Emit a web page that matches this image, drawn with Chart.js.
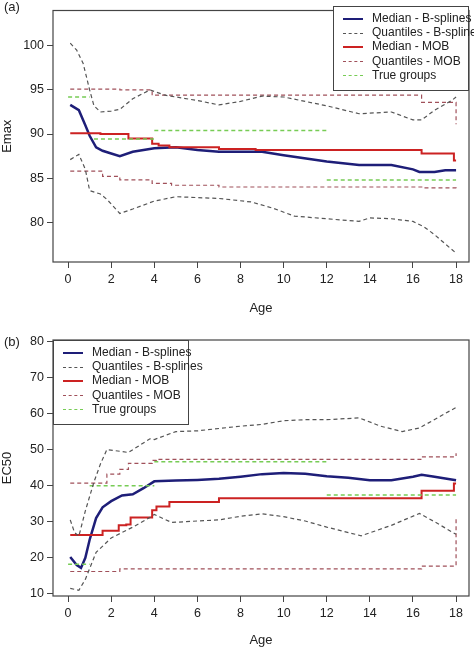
<!DOCTYPE html>
<html><head><meta charset="utf-8">
<script src="https://cdn.jsdelivr.net/npm/chart.js@4"></script>
<style>
body{margin:0;background:#fff;font-family:"Liberation Sans",Arial,sans-serif;}
.wrap{position:absolute;left:0;width:474px;}
.lab{position:absolute;font-size:13px;color:#222;}
.leg{position:absolute;border:1.5px solid #444;background:#fff;font-size:12px;color:#222;padding:4px 4px 3px 9px;box-sizing:border-box;width:136px;height:85px;}
.leg div{height:14.2px;line-height:14px;white-space:nowrap;}
.leg span{display:inline-block;width:20px;margin-right:9px;vertical-align:middle;height:0;}
</style></head><body>
<div class="wrap" style="top:0;height:320px"><canvas id="ca"></canvas></div>
<div class="wrap" style="top:320px;height:332px"><canvas id="cb"></canvas></div>
<div class="lab" style="left:4px;top:-1px">(a)</div>
<div class="lab" style="left:4px;top:334px">(b)</div>
<div class="leg" style="left:333px;top:6px">
<div><span style="border-top:2.5px solid #1e1e78"></span>Median - B-splines</div>
<div><span style="border-top:1.5px dashed #555"></span>Quantiles - B-splines</div>
<div><span style="border-top:2px solid #cc2222"></span>Median - MOB</div>
<div><span style="border-top:1.5px dashed #a0505a"></span>Quantiles - MOB</div>
<div><span style="border-top:1.5px dashed #77cc55"></span>True groups</div>
</div>
<div class="leg" style="left:53px;top:340px">
<div><span style="border-top:2.5px solid #1e1e78"></span>Median - B-splines</div>
<div><span style="border-top:1.5px dashed #555"></span>Quantiles - B-splines</div>
<div><span style="border-top:2px solid #cc2222"></span>Median - MOB</div>
<div><span style="border-top:1.5px dashed #a0505a"></span>Quantiles - MOB</div>
<div><span style="border-top:1.5px dashed #77cc55"></span>True groups</div>
</div>
<script>
const xTicks=[0,2,4,6,8,10,12,14,16,18];
// Panel (a) Emax
const aMedBsX=[0.1,0.5,0.8,1,1.3,1.6,2,2.4,3,4,5,6,7,8,9,10,12,13.5,15,16,16.3,17,17.5,18];
const aMedBsY=[93.3,92.7,91,89.8,88.5,88.1,87.8,87.5,88,88.4,88.5,88.2,88,88,88,87.6,86.9,86.5,86.5,86,85.7,85.7,85.9,85.9];
const aMedMobX=[0.1,1.5,2.8,3.9,4.2,4.7,7,8.7,16.4,17.9,18];
const aMedMobY=[90.1,90.0,89.5,88.9,88.7,88.5,88.3,88.2,87.8,87.0,87.0];
const aQMobUpX=[0.1,2.4,3.9,16.4,17.8,18];
const aQMobUpY=[95.1,95.0,94.4,93.6,93.6,91.1];
const aQMobLoX=[0.1,1.6,2.4,3.9,4.8,7,16.5,18];
const aQMobLoY=[85.8,85.2,84.8,84.4,84.2,84.0,83.9,83.8];
const aQBsUpX=[0.1,0.4,0.7,1,1.2,1.5,2,2.4,3,3.8,4.5,6,7,8,9,10,11,12,13.5,15,16,16.4,17,17.8,18];
const aQBsUpY=[100.3,99.5,98,95,93.2,92.5,92.6,92.8,94,95,94.4,93.8,93.3,93.7,94.3,94.2,93.7,93.2,92.3,92.5,91.6,91.6,92.7,93.8,94.2];
const aQBsLoX=[0.1,0.5,0.8,1,1.5,1.8,2.4,3,4,5,6,7,8.5,9.5,10.5,12,13.5,14,15,16,16.5,17,18];
const aQBsLoY=[87.1,87.7,86,83.6,83.2,82.6,81,81.5,82.4,82.9,82.8,82.7,82.3,81.6,80.7,80.4,80.1,80.5,80.4,80.1,79.5,78.6,76.5];
const aTrueX=[0,1,null,1.2,4,null,4,12,null,12,18];
const aTrueY=[94.2,94.2,null,89.45,89.45,null,90.4,90.4,null,84.8,84.8];
const aYTicks=[80,85,90,95,100];
// Panel (b) EC50
const bMedBsX=[0.1,0.4,0.6,0.8,1,1.3,1.6,2,2.5,3,3.5,4,5,6,7,8,9,10,11,12,13,14,15,16,16.4,17,18];
const bMedBsY=[20.2,18,17.2,20,25,31,34,35.7,37.3,37.6,39.3,41.2,41.4,41.6,41.9,42.5,43.2,43.5,43.3,42.6,42.2,41.5,41.5,42.5,43,42.5,41.5];
const bMedMobX=[0.1,1.6,2.35,2.7,2.9,3.9,4.1,4.7,7,16.4,17.9,18];
const bMedMobY=[26.3,27.5,29.0,29.2,31.2,33.2,34.2,35.5,36.5,38.6,40.6,40.6];
const bQMobUpX=[0.1,1.8,2.4,2.8,3.9,4.1,16.4,17.9,18];
const bQMobUpY=[40.7,43.2,44.5,46.2,47.0,47.3,48.0,48.0,49.0];
const bQMobLoX=[0.1,2.4,16.4,17.9,18];
const bQMobLoY=[16.2,16.9,17.7,17.7,31.0];
const bQBsUpX=[0.1,0.3,0.5,0.8,1.2,1.5,1.8,2.2,2.8,3.8,4,5,6,8,9,10,11,12,13.5,14.5,15.5,16.3,18];
const bQBsUpY=[30.5,27,26,33,41,46,50,49.7,49.2,53,52.8,55,55.2,56.5,57,58,58.3,58.3,58.8,56.5,55,56,61.7];
const bQBsLoX=[0.1,0.5,0.8,1,1.3,2,3,3.8,4,4.8,6,7,8,9,10,11,12,13.6,15,16.3,17,18];
const bQBsLoY=[11.5,11,14,17,21.5,25.5,28.5,31.2,32,29.8,30.2,30.5,31.5,32.2,31.4,30.2,28.5,26.1,29,32.3,30,26.5];
const bTrueX=[0,1,null,1,4,null,4,12,null,12,18];
const bTrueY=[18.2,18.2,null,40,40,null,46.6,46.6,null,37.4,37.4];
const bYTicks=[10,20,30,40,50,60,70,80];

const pts=(xs,ys)=>xs.map((x,i)=>x===null?{x:null,y:null}:{x:x,y:ys[i]});
const C={navy:'#1e1e78',gray:'#555',red:'#cc2222',mob:'#a0505a',green:'#77cc55'};
function ds(xs,ys,color,w,dash,stepped){return{data:pts(xs,ys),borderColor:color,borderWidth:w,borderDash:dash||[],stepped:stepped||false,pointRadius:0,fill:false,spanGaps:false,tension:0};}
const boxPlugin={id:'box',afterDraw(c){const a=c.chartArea,g=c.ctx;g.save();g.strokeStyle='#444';g.lineWidth=1.2;g.strokeRect(a.left,a.top,a.right-a.left,a.bottom-a.top);g.restore();}};
function make(id,sets,ymin,ymax,yticks,ytitle,top,bottomH){
 new Chart(document.getElementById(id),{type:'line',data:{datasets:sets},plugins:[boxPlugin],
 options:{responsive:true,maintainAspectRatio:false,animation:false,
 layout:{padding:{top:top,right:5,left:0,bottom:0}},
 plugins:{legend:{display:false},tooltip:{enabled:false}},
 scales:{
  x:{type:'linear',min:-0.7,max:18.6,afterBuildTicks:s=>{s.ticks=xTicks.map(v=>({value:v}));},
   grid:{drawOnChartArea:false,color:'#444',tickLength:6},border:{display:false},
   ticks:{color:'#222',font:{size:12.5,family:'Liberation Sans'},padding:4,maxRotation:0},
   title:{display:true,text:'Age',color:'#222',font:{size:13,family:'Liberation Sans'},padding:{top:10}},
   afterFit:s=>{s.height=bottomH;}},
  y:{min:ymin,max:ymax,afterBuildTicks:s=>{s.ticks=yticks.map(v=>({value:v}));},
   grid:{drawOnChartArea:false,color:'#444',tickLength:6},border:{display:false},
   ticks:{color:'#222',font:{size:12.5,family:'Liberation Sans'},padding:3},
   title:{display:true,text:ytitle,color:'#222',font:{size:13,family:'Liberation Sans'},padding:0},
   afterFit:s=>{s.width=53;}}
 }}});
}
const S='before';
make('ca',[
 ds(aQBsUpX,aQBsUpY,C.gray,1.2,[4,3]),ds(aQBsLoX,aQBsLoY,C.gray,1.2,[4,3]),
 ds(aQMobUpX,aQMobUpY,C.mob,1.2,[4,3],S),ds(aQMobLoX,aQMobLoY,C.mob,1.2,[4,3],S),
 ds(aTrueX,aTrueY,C.green,1.5,[4,3]),
 ds(aMedMobX,aMedMobY,C.red,2,null,S),ds(aMedBsX,aMedBsY,C.navy,2.5)
],75.5,104,aYTicks,'Emax',6,58);
make('cb',[
 ds(bQBsUpX,bQBsUpY,C.gray,1.2,[4,3]),ds(bQBsLoX,bQBsLoY,C.gray,1.2,[4,3]),
 ds(bQMobUpX,bQMobUpY,C.mob,1.2,[4,3],S),ds(bQMobLoX,bQMobLoY,C.mob,1.2,[4,3],S),
 ds(bTrueX,bTrueY,C.green,1.5,[4,3]),
 ds(bMedMobX,bMedMobY,C.red,2,null,S),ds(bMedBsX,bMedBsY,C.navy,2.5)
],9.4,80.4,bYTicks,'EC50',20,56);
</script></body></html>
